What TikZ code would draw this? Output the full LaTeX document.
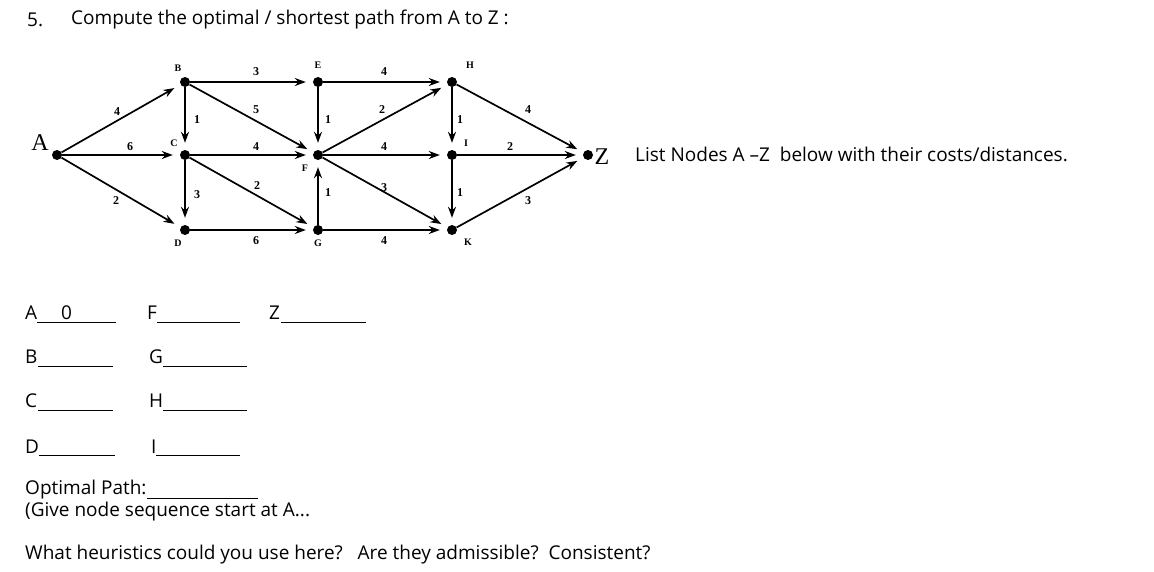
\documentclass[tikz,border=0pt]{standalone}
\usepackage{fontspec}
\setmainfont{Open Sans}
\newfontfamily\gfont{Liberation Serif}
\usetikzlibrary{arrows.meta}
\begin{document}
\begin{tikzpicture}[x=1pt,y=-1pt,
  vtx/.style={circle,fill=black,inner sep=0pt,minimum size=10pt},
  vlab/.style={font=\gfont\bfseries\fontsize{10}{11}\selectfont},
  big/.style={font=\gfont\fontsize{24}{26}\selectfont},
  wt/.style={font=\gfont\bfseries\fontsize{12}{13}\selectfont},
  edge/.style={line width=1.7pt,-{Stealth[length=11pt,width=8pt]},shorten >=7pt},
  txt/.style={anchor=west,inner sep=0pt,font=\fontsize{19}{22}\selectfont},
  blank/.style={line width=0.8pt}]
\useasboundingbox (0,0) rectangle (1154,571);
% vertices
\node[vtx] (A) at (57,155) {};
\node[vtx] (B) at (185,82) {};
\node[vtx] (C) at (185,155) {};
\node[vtx] (D) at (185,230) {};
\node[vtx] (E) at (318,82) {};
\node[vtx] (F) at (318,155) {};
\node[vtx] (G) at (318,230) {};
\node[vtx] (H) at (452,82) {};
\node[vtx] (I) at (452,155) {};
\node[vtx] (K) at (452,230) {};
\node[vtx] (Z) at (588,155) {};
% vertex labels
\node[big] (lA) at (40,143) {A};
\node[vlab] (lB) at (178,68) {B};
\node[vlab] (lE) at (318,65) {E};
\node[vlab] (lH) at (470,65) {H};
\node[vlab] (lC) at (174,143) {C};
\node[vlab] (lF) at (305,168) {F};
\node[vlab] (lI) at (466,143) {I};
\node[vlab] (lD) at (178,243) {D};
\node[vlab] (lG) at (318,243) {G};
\node[vlab] (lK) at (468,242) {K};
\node[big] (lZ) at (602,157) {Z};
% edges
\draw[edge] (A) -- (B);
\draw[edge] (A) -- (C);
\draw[edge] (A) -- (D);
\draw[edge] (B) -- (E);
\draw[edge] (B) -- (C);
\draw[edge] (B) -- (F);
\draw[edge] (C) -- (F);
\draw[edge] (C) -- (D);
\draw[edge] (C) -- (G);
\draw[edge] (E) -- (F);
\draw[edge] (G) -- (F);
\draw[edge] (D) -- (G);
\draw[edge] (E) -- (H);
\draw[edge] (F) -- (H);
\draw[edge] (F) -- (I);
\draw[edge] (F) -- (K);
\draw[edge] (G) -- (K);
\draw[edge] (H) -- (I);
\draw[edge] (I) -- (K);
\draw[edge] (H) -- (Z);
\draw[edge] (I) -- (Z);
\draw[edge] (K) -- (Z);
% weights
\node[wt] (wAB) at (117,112) {4};
\node[wt] (wAC) at (130,147) {6};
\node[wt] (wAD) at (116,201) {2};
\node[wt] (wBE) at (256,72) {3};
\node[wt] (wBC) at (197,120) {1};
\node[wt] (wBF) at (256,110) {5};
\node[wt] (wCF) at (256,147) {4};
\node[wt] (wCD) at (197,195) {3};
\node[wt] (wCG) at (257,186) {2};
\node[wt] (wEF) at (328,120) {1};
\node[wt] (wFG) at (328,193) {1};
\node[wt] (wDG) at (256,241) {6};
\node[wt] (wEH) at (384,72) {4};
\node[wt] (wFH) at (382,110) {2};
\node[wt] (wFI) at (384,147) {4};
\node[wt] (wFK) at (384,188) {3};
\node[wt] (wGK) at (384,241) {4};
\node[wt] (wHI) at (460,120) {1};
\node[wt] (wIK) at (460,193) {1};
\node[wt] (wHZ) at (528,110) {4};
\node[wt] (wIZ) at (510,147) {2};
\node[wt] (wKZ) at (528,201) {3};
% texts
\node[txt] (t5) at (27,20) {5.};
\node[txt] (tq) at (71,20) {Compute the optimal / shortest path from A to Z :};
\node[txt] (tl) at (635,154) {List Nodes A –Z\ \ below with their costs/distances.};
\node[txt] (fA) at (25,313) {A};
\node[txt] (f0) at (61,313) {0};
\draw[blank] (37,322) -- (116,322);
\node[txt] (fF) at (147,313) {F};
\draw[blank] (157,322) -- (240,322);
\node[txt] (fZ) at (269,313) {Z};
\draw[blank] (281,322) -- (366,322);
\node[txt] (fB) at (25,357) {B};
\draw[blank] (38,366) -- (113,366);
\node[txt] (fG) at (149,357) {G};
\draw[blank] (163,366) -- (247,366);
\node[txt] (fC) at (25,401) {C};
\draw[blank] (38,410) -- (113,410);
\node[txt] (fH) at (149,401) {H};
\draw[blank] (163,410) -- (247,410);
\node[txt] (fD) at (25,447) {D};
\draw[blank] (39,455) -- (115,455);
\node[txt] (fI) at (151,447) {I};
\draw[blank] (156,455) -- (240,455);
\node[txt] (op) at (25,490) {Optimal Path:};
\draw[blank] (op.east |- 0,498) -- (258,498);
\node[txt] (gv) at (25,512) {(Give node sequence start at A...};
\node[txt] (wh) at (25,555) {What heuristics could you use here?\ \ \ Are they admissible?\ \ Consistent?};
\end{tikzpicture}
\end{document}
